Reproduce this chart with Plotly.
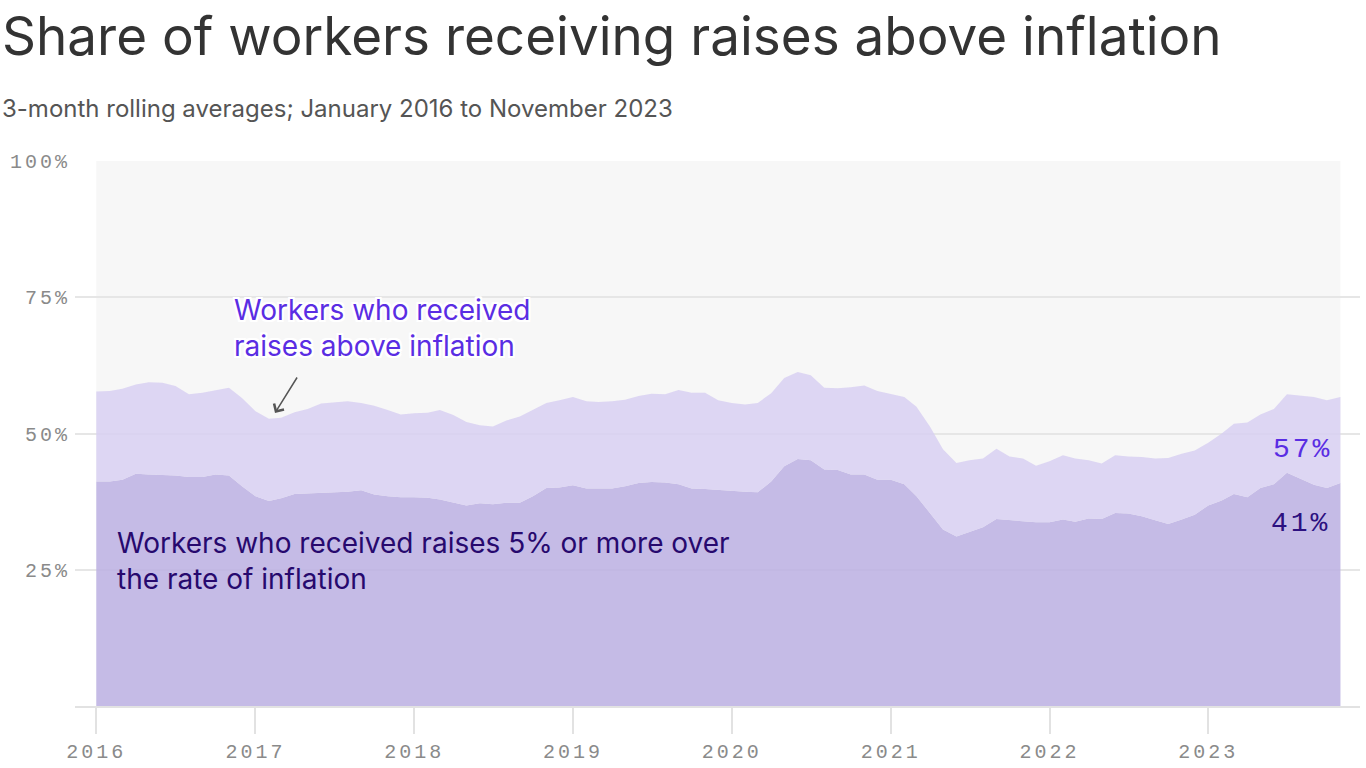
import pandas as pd
import plotly.graph_objects as go

# ---- data ----
months = pd.date_range("2016-01-01", "2023-11-01", freq="MS")

above_inflation = [
    57.7, 57.8, 58.2, 59.0, 59.4, 59.3, 58.7, 57.2, 57.5, 58.0,
    58.4, 56.5, 54.1, 52.7, 52.9, 53.9, 54.5, 55.5, 55.7, 55.9,
    55.6, 55.1, 54.3, 53.5, 53.7, 53.8, 54.3, 53.4, 52.1, 51.5,
    51.3, 52.4, 53.1, 54.3, 55.6, 56.1, 56.7, 55.9, 55.8, 55.9,
    56.2, 56.9, 57.3, 57.2, 58.0, 57.5, 57.5, 56.1, 55.6, 55.3,
    55.6, 57.4, 60.2, 61.3, 60.7, 58.4, 58.3, 58.5, 58.8, 57.8,
    57.3, 56.7, 54.9, 51.3, 47.1, 44.6, 45.1, 45.4, 47.2, 45.8,
    45.4, 44.1, 44.9, 46.0, 45.4, 45.1, 44.5, 46.0, 45.8, 45.7,
    45.4, 45.5, 46.3, 46.9, 48.3, 50.0, 51.8, 52.0, 53.5, 54.5,
    57.2, 56.9, 56.7, 56.1, 56.7,
]

five_pct_over = [
    41.2, 41.2, 41.5, 42.6, 42.5, 42.4, 42.3, 42.0, 42.0, 42.5,
    42.3, 40.3, 38.5, 37.6, 38.1, 38.9, 39.0, 39.1, 39.2, 39.3,
    39.6, 38.8, 38.5, 38.3, 38.3, 38.2, 37.9, 37.4, 36.8, 37.2,
    37.0, 37.3, 37.3, 38.5, 40.0, 40.1, 40.5, 39.9, 39.9, 39.9,
    40.3, 40.9, 41.1, 41.0, 40.7, 39.9, 39.8, 39.6, 39.5, 39.3,
    39.2, 41.2, 44.0, 45.3, 45.1, 43.4, 43.3, 42.5, 42.5, 41.5,
    41.5, 40.7, 38.5, 35.4, 32.4, 31.1, 31.9, 32.8, 34.3, 34.1,
    33.9, 33.7, 33.7, 34.2, 33.8, 34.4, 34.3, 35.4, 35.3, 34.8,
    34.1, 33.4, 34.2, 35.1, 36.8, 37.7, 38.9, 38.3, 40.0, 40.7,
    42.8, 41.7, 40.6, 40.0, 40.9,
]

year_ticks = [f"{y}-01-01" for y in range(2016, 2024)]
year_labels = [str(y) for y in range(2016, 2024)]
y_ticks = [25, 50, 75, 100]
y_labels = ["25%", "50%", "75%", "100%"]

# ---- styles ----
SANS = "Inter, Roboto, sans-serif"
MONO = "Liberation Mono, DejaVu Sans Mono, monospace"
PURPLE = "#5a2de3"
DARK = "#27096e"
TICKGRAY = "#8a8a8a"


def spaced(t, px=3):
    return f'<span style="letter-spacing:{px}px">{t}</span>'


fig = go.Figure()
fig.add_trace(go.Scatter(
    x=months, y=five_pct_over, mode="lines", line=dict(width=0),
    fill="tozeroy", fillcolor="rgba(186,173,226,0.82)", hoverinfo="skip",
    showlegend=False))
fig.add_trace(go.Scatter(
    x=months, y=above_inflation, mode="lines", line=dict(width=0),
    fill="tonexty", fillcolor="rgba(215,206,242,0.82)", hoverinfo="skip",
    showlegend=False))

fig.add_shape(type="rect", xref="x", yref="y", x0=months[0], x1=months[-1],
              y0=0, y1=100, fillcolor="#f7f7f7", line=dict(width=0),
              layer="below")

W, H = 1366, 768
L, R, T, B = 75, 6, 161, 62
pw, ph = W - L - R, H - T - B


def px(xp):
    return (xp - L) / pw


def py(yp):
    return (H - B - yp) / ph


HALO = ("2px 0 0 #fff, -2px 0 0 #fff, 0 2px 0 #fff, 0 -2px 0 #fff, "
        "2px 2px 0 #fff, -2px -2px 0 #fff, 2px -2px 0 #fff, -2px 2px 0 #fff")

annotations = [
    dict(text="Share of workers receiving raises above inflation",
         xref="paper", yref="paper", x=px(0), y=py(36), xanchor="left",
         yanchor="middle", showarrow=False,
         font=dict(family=SANS, size=53, color="#333333")),
    dict(text="3-month rolling averages; January 2016 to November 2023",
         xref="paper", yref="paper", x=px(0), y=py(108), xanchor="left",
         yanchor="middle", showarrow=False,
         font=dict(family=SANS, size=24, color="#555555")),
    dict(text="Workers who received<br>raises above inflation",
         xref="paper", yref="paper", x=px(232), y=py(328), xanchor="left",
         yanchor="middle", align="left", showarrow=False,
         font=dict(family=SANS, size=28, color=PURPLE, shadow=HALO)),
    dict(text="", xref="paper", yref="paper", x=px(275), y=py(413),
         ax=23, ay=-37, axref="pixel", ayref="pixel", showarrow=True,
         arrowhead=4, arrowsize=1.5, arrowwidth=1.5, arrowcolor="#555555"),
    dict(text="Workers who received raises 5% or more over<br>the rate of inflation",
         xref="paper", yref="paper", x=px(115), y=py(561), xanchor="left",
         yanchor="middle", align="left", showarrow=False,
         font=dict(family=SANS, size=28, color=DARK)),
    dict(text=spaced(f"{round(above_inflation[-1])}%", 3),
         xref="paper", yref="paper", x=px(1334), y=py(449), xanchor="right",
         yanchor="middle", showarrow=False,
         font=dict(family=MONO, size=28, color=PURPLE)),
    dict(text=spaced(f"{round(five_pct_over[-1])}%", 3),
         xref="paper", yref="paper", x=px(1332), y=py(523), xanchor="right",
         yanchor="middle", showarrow=False,
         font=dict(family=MONO, size=28, color="#2c1080")),
]

fig.update_layout(
    width=W, height=H,
    margin=dict(l=L, r=R, t=T, b=B, pad=0, autoexpand=False),
    paper_bgcolor="white", plot_bgcolor="white",
    showlegend=False,
    annotations=annotations,
    xaxis=dict(
        type="date", range=["2015-11-13", "2023-12-16"],
        tickvals=year_ticks, ticktext=[spaced(t, 3) for t in year_labels],
        ticks="outside", ticklen=26, tickwidth=1.5, tickcolor="#e2e2e2",
        showgrid=False, zeroline=False, automargin=False,
        showline=True, linecolor="#e2e2e2", linewidth=1.5,
        tickfont=dict(family=MONO, size=20, color=TICKGRAY),
        ticklabelstandoff=0, fixedrange=True,
    ),
    yaxis=dict(
        range=[0, 100], tickvals=y_ticks, ticktext=[spaced(t, 3) for t in y_labels],
        showgrid=True, gridcolor="#e6e6e6", gridwidth=1.5, automargin=False,
        zeroline=False, showline=False, ticks="",
        tickfont=dict(family=MONO, size=20, color=TICKGRAY),
        ticklabelstandoff=4, fixedrange=True,
    ),
)

fig.write_html("out.html")
